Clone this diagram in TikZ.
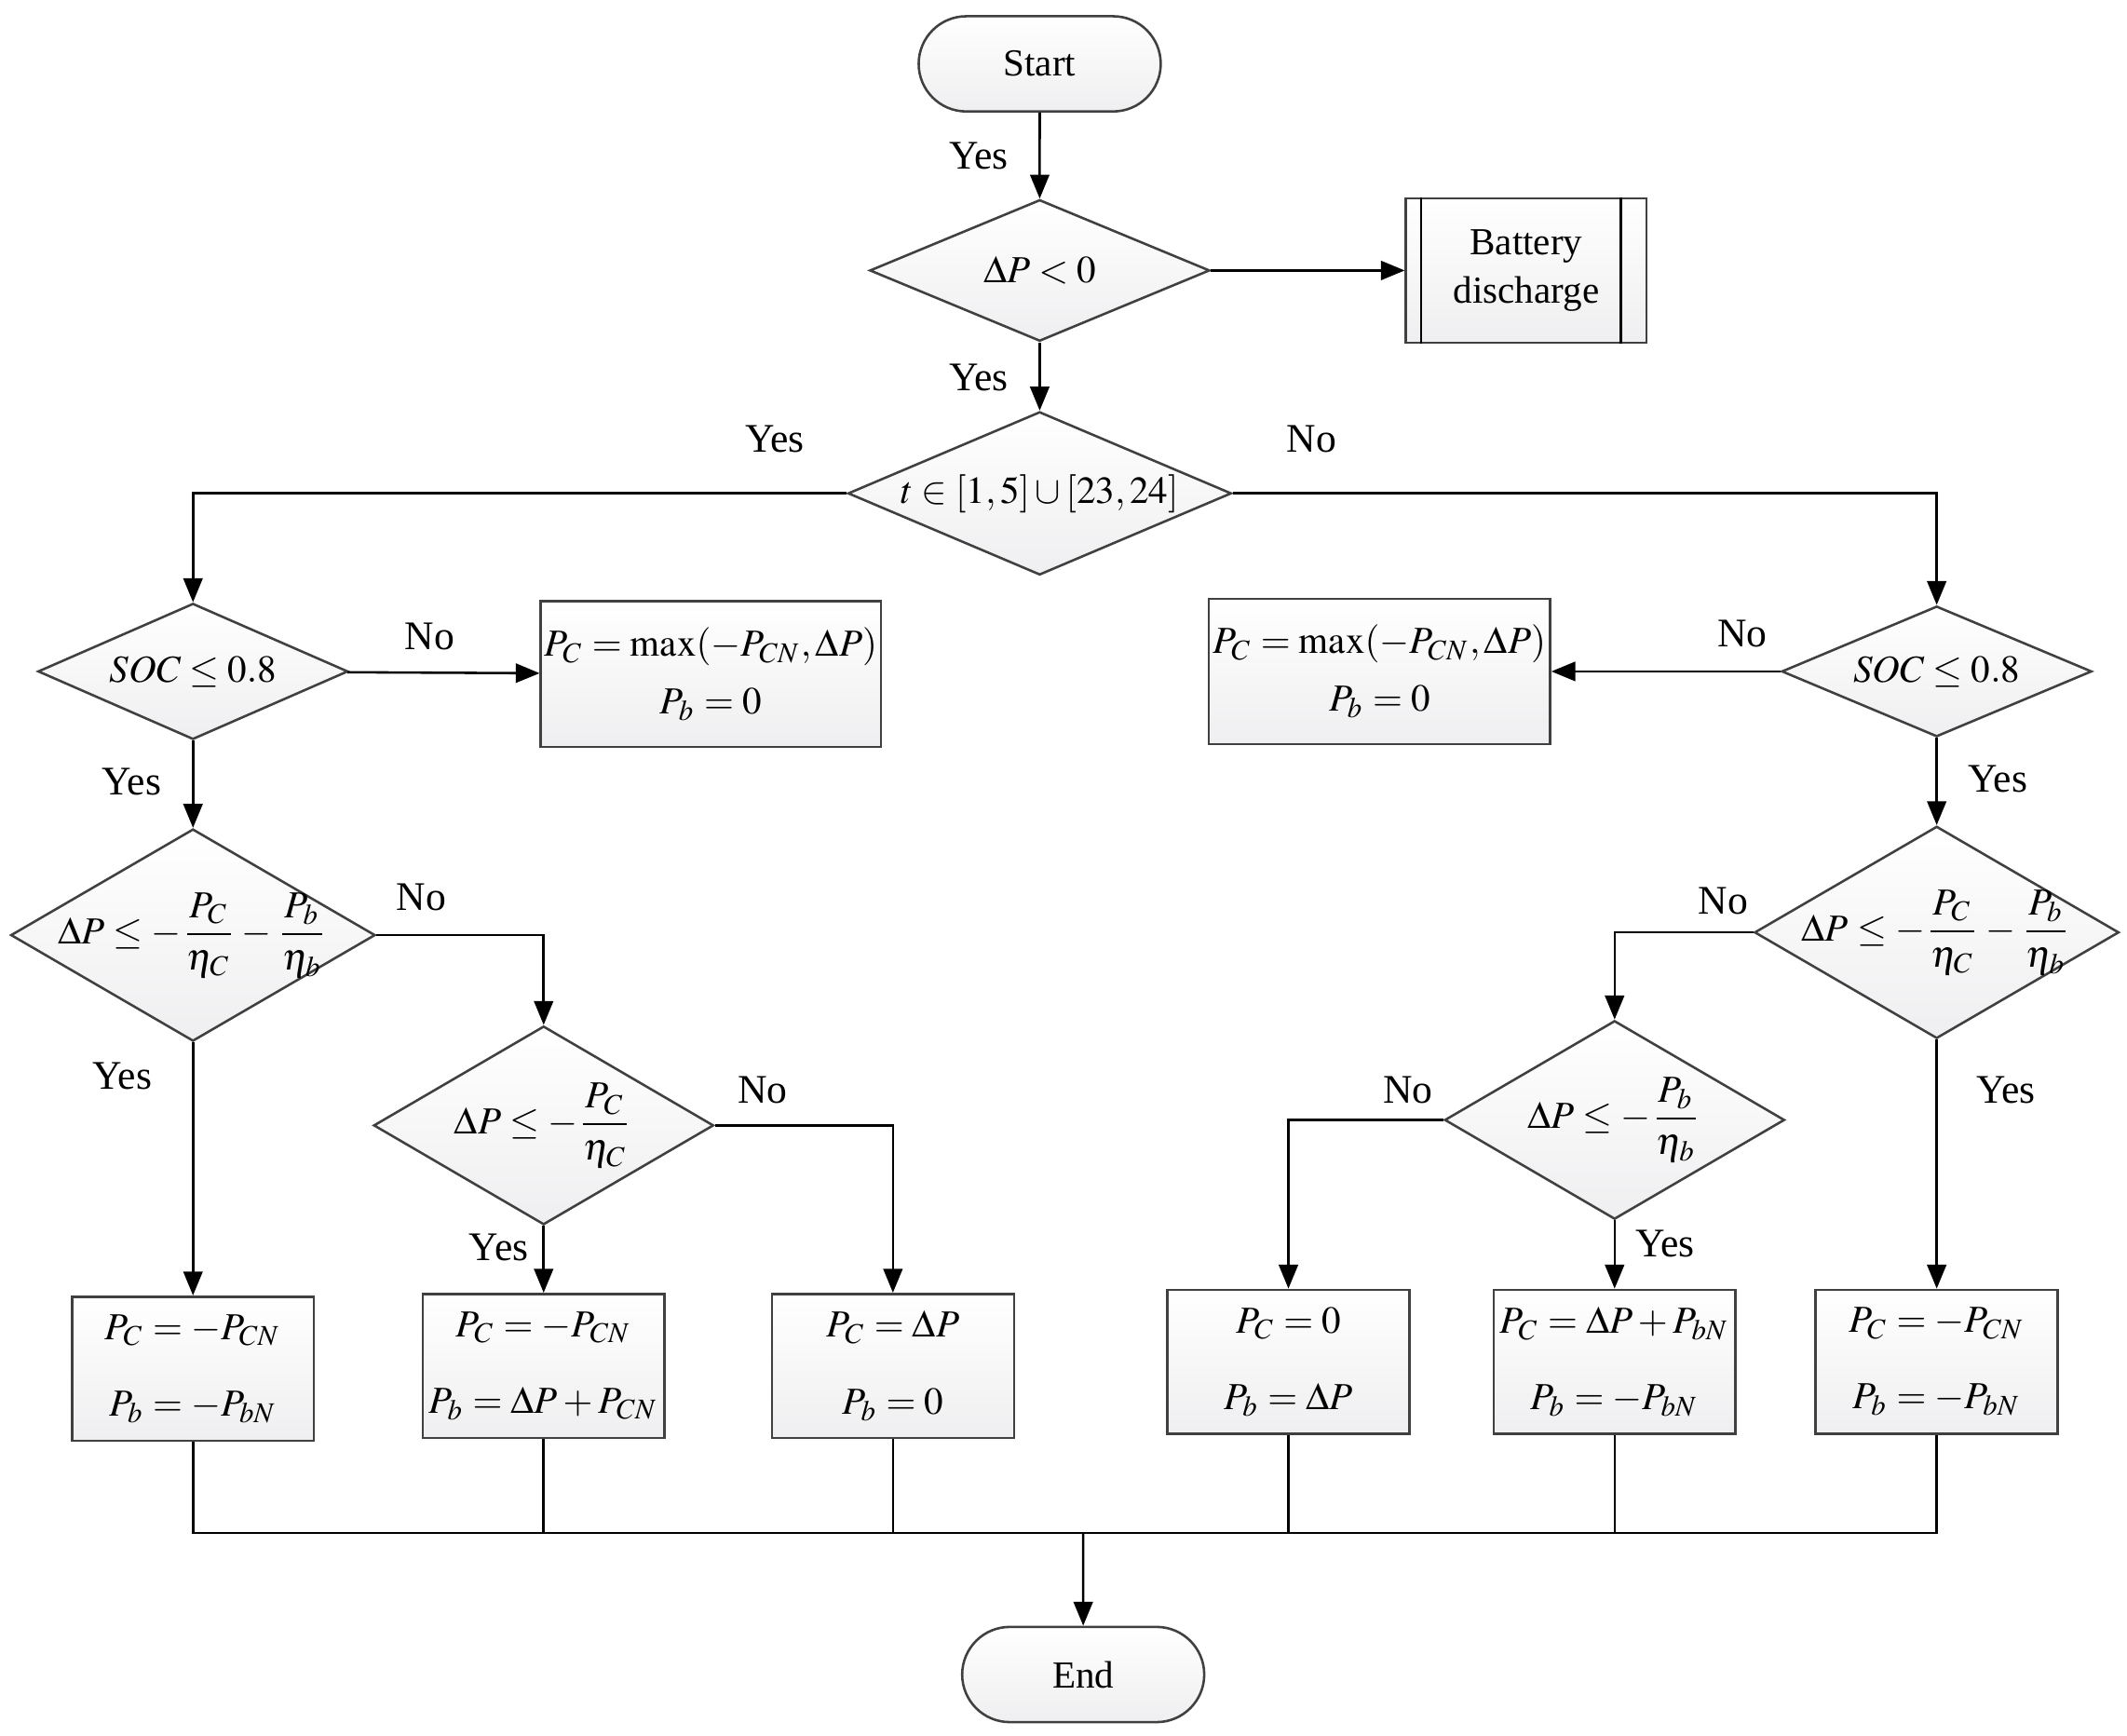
\documentclass[tikz,border=0pt]{standalone}
\usepackage{amsmath}
\usepackage{mathptmx}
\usepackage{fontspec}
\setmainfont{Liberation Serif}
\usetikzlibrary{shapes.geometric,shapes.misc,arrows.meta}
\begin{document}
\begin{tikzpicture}[x=0.01cm,y=-0.01cm,
  every node/.style={font=\fontsize{8}{10}\selectfont},
  base/.style={draw=black!75,line width=0.5pt,top color=white,bottom color=blue!6!gray!12,inner sep=0pt},
  dia/.style={base,diamond,aspect=2.4,inner sep=-12pt},
  box/.style={base,rectangle,minimum width=1.78cm,minimum height=1.06cm,align=center},
  term/.style={base,rounded rectangle,minimum width=1.78cm,minimum height=0.7cm},
  arr/.style={-{Triangle[length=5pt,width=4pt]},line width=0.5pt},
  ln/.style={line width=0.5pt},
  lab/.style={font=\fontsize{8.5}{10}\selectfont}]
\useasboundingbox (0,0) rectangle (1565,1277);
\node[term] (start) at (765,47) {Start};
\node[dia,minimum width=2.5cm,minimum height=1.04cm] (d1) at (765,199) {$\Delta P<0$};
\node[box,minimum width=1.77cm] (bat) at (1123,199) {Battery\\discharge};
\draw[ln] ([xshift=0.12cm]bat.north west) -- ([xshift=0.12cm]bat.south west)
 ([xshift=-0.2cm]bat.north east) -- ([xshift=-0.2cm]bat.south east);
\node[dia,minimum width=2.82cm,minimum height=1.2cm] (d2) at (765,363) {$t\in[1,5]\cup[23,24]$};
\node[dia,minimum width=2.28cm,minimum height=1.0cm] (d3l) at (142,494) {$SOC\le0.8$};
\node[dia,minimum width=2.28cm,minimum height=0.96cm] (d3r) at (1425,494) {$SOC\le0.8$};
\node[box,minimum width=2.5cm,minimum height=1.07cm] (bl1) at (523,496) {$P_C=\max(-P_{CN},\Delta P)$\\[2pt]$P_b=0$};
\node[box,minimum width=2.51cm,minimum height=1.07cm] (br1) at (1015,494) {$P_C=\max(-P_{CN},\Delta P)$\\[2pt]$P_b=0$};
\node[dia,minimum width=2.68cm,minimum height=1.56cm] (d4l) at (142,688) {$\Delta P\le-\dfrac{P_C}{\eta_C}-\dfrac{P_b}{\eta_b}$};
\node[dia,minimum width=2.68cm,minimum height=1.56cm] (d4r) at (1425,686) {$\Delta P\le-\dfrac{P_C}{\eta_C}-\dfrac{P_b}{\eta_b}$};
\node[dia,minimum width=2.5cm,minimum height=1.46cm] (d5l) at (400,828) {$\Delta P\le-\dfrac{P_C}{\eta_C}$};
\node[dia,minimum width=2.5cm,minimum height=1.46cm] (d5r) at (1188,824) {$\Delta P\le-\dfrac{P_b}{\eta_b}$};
\node[box] (b1) at (142,1007) {$P_C=-P_{CN}$\\[6pt]$P_b=-P_{bN}$};
\node[box] (b2) at (400,1005) {$P_C=-P_{CN}$\\[6pt]$P_b=\Delta P+P_{CN}$};
\node[box] (b3) at (657,1005) {$P_C=\Delta P$\\[6pt]$P_b=0$};
\node[box] (b4) at (948,1002) {$P_C=0$\\[6pt]$P_b=\Delta P$};
\node[box] (b5) at (1188,1002) {$P_C=\Delta P+P_{bN}$\\[6pt]$P_b=-P_{bN}$};
\node[box] (b6) at (1425,1002) {$P_C=-P_{CN}$\\[6pt]$P_b=-P_{bN}$};
\node[term] (end) at (797,1232) {End};
\coordinate (m) at (797,1128);
\draw[arr] (start) -- (d1);
\draw[arr] (d1) -- (bat);
\draw[arr] (d1) -- (d2);
\draw[arr] (d2.west) -| (d3l.north);
\draw[arr] (d2.east) -| (d3r.north);
\draw[arr] (d3l) -- (bl1);
\draw[arr] (d3r) -- (br1);
\draw[arr] (d3l) -- (d4l);
\draw[arr] (d3r) -- (d4r);
\draw[arr] (d4l.east) -| (d5l.north);
\draw[arr] (d4r.west) -| (d5r.north);
\draw[arr] (d4l) -- (b1);
\draw[arr] (d4r) -- (b6);
\draw[arr] (d5l) -- (b2);
\draw[arr] (d5r) -- (b5);
\draw[arr] (d5l.east) -| (b3.north);
\draw[arr] (d5r.west) -| (b4.north);
\draw[ln] (b1.south) -- (b1.south |- m) -- (b6.south |- m) -- (b6.south);
\foreach \b in {b2,b3,b4,b5} \draw[ln] (\b.south) -- (\b.south |- m);
\draw[arr] (m) -- (end);
\node[lab] at (720,115) {Yes};
\node[lab] at (720,278) {Yes};
\node[lab] at (570,323) {Yes};
\node[lab] at (965,323) {No};
\node[lab] at (316,468) {No};
\node[lab] at (1282,466) {No};
\node[lab] at (97,575) {Yes};
\node[lab] at (1470,573) {Yes};
\node[lab] at (310,660) {No};
\node[lab] at (1268,663) {No};
\node[lab] at (90,792) {Yes};
\node[lab] at (1476,802) {Yes};
\node[lab] at (561,802) {No};
\node[lab] at (1036,802) {No};
\node[lab] at (367,918) {Yes};
\node[lab] at (1225,915) {Yes};
\end{tikzpicture}
\end{document}
